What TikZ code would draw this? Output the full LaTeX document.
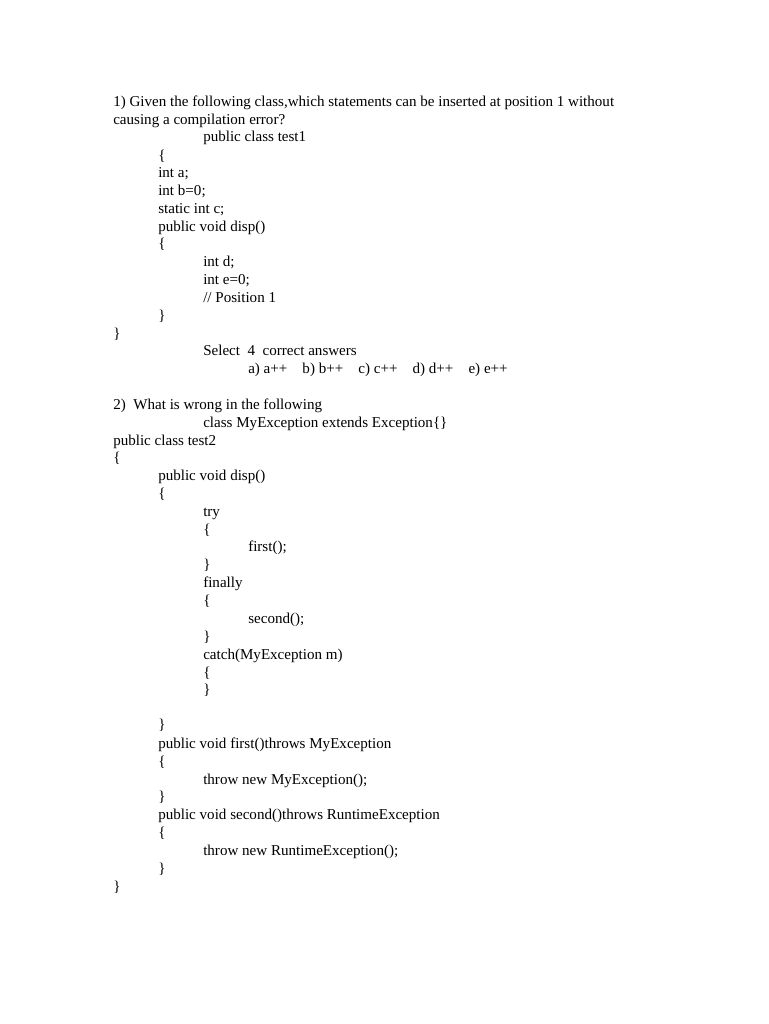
\documentclass[tikz,border=0pt]{standalone}
\usepackage{fontspec}
\setmainfont{Liberation Serif}
\begin{document}
\begin{tikzpicture}[x=0.75pt,y=-0.75pt,
  txt/.style={anchor=base west,inner sep=0pt,font=\fontsize{11.3pt}{13pt}\selectfont}]
\useasboundingbox[fill=white] (0,0) rectangle (768,1024);
\foreach \x/\y/\t [count=\i] in {
113/106/{1) Given the following class,which statements can be inserted at position 1 without},
113/124/{causing a compilation error?},
203/142/{public class test1},
158/160/{\{},
158/177/{int a;},
158/195/{int b=0;},
158/213/{static int c;},
158/231/{public void disp()},
158/248/{\{},
203/266/{int d;},
203/284/{int e=0;},
203/302/{// Position 1},
158/320/{\}},
113/338/{\}},
203/355/{Select\ \ 4\ \ correct answers},
248/373/{a) a++\ \ \ \ b) b++\ \ \ \ c) c++\ \ \ \ d) d++\ \ \ \ e) e++},
113/409/{2)\ \ What is wrong in the following},
203/427/{class MyException extends Exception\{\}},
113/445/{public class test2},
113/462/{\{},
158/480/{public void disp()},
158/498/{\{},
203/516/{try},
203/534/{\{},
248/551/{first();},
203/569/{\}},
203/587/{finally},
203/605/{\{},
248/623/{second();},
203/641/{\}},
203/659/{catch(MyException m)},
203/677/{\{},
203/694/{\}},
158/729/{\}},
158/748/{public void first()throws MyException},
158/766/{\{},
203/784/{throw new MyException();},
158/801/{\}},
158/819/{public void second()throws RuntimeException},
158/837/{\{},
203/855/{throw new RuntimeException();},
158/873/{\}},
113/891/{\}}}
  \node[txt] (l\i) at (\x,\y) {\t};
\end{tikzpicture}
\end{document}
